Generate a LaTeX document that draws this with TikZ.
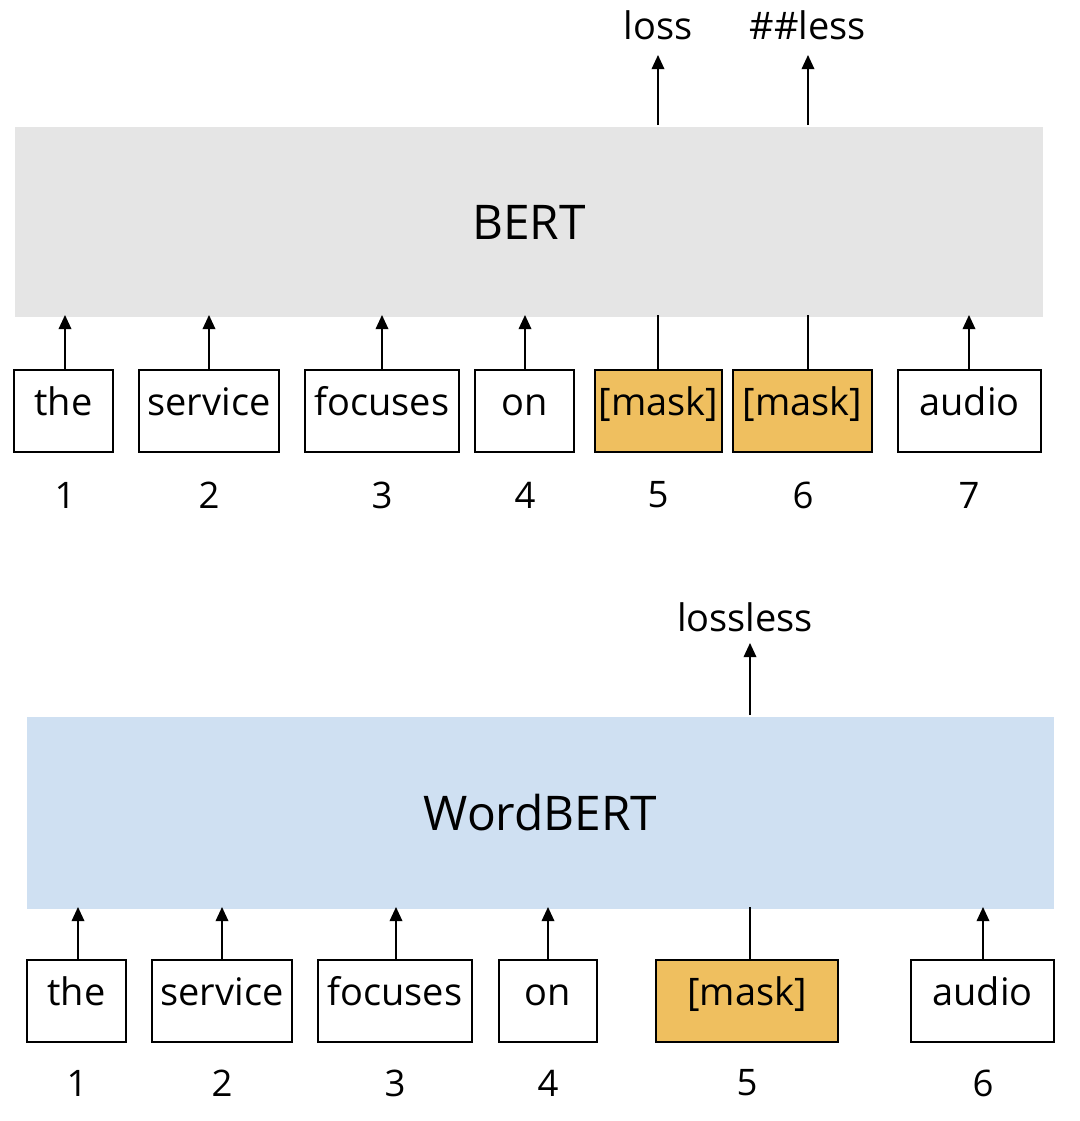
\documentclass[tikz,border=0pt]{standalone}
\usepackage{fontspec}
\setmainfont{Open Sans}
\usetikzlibrary{arrows.meta}
\definecolor{bertgray}{HTML}{E5E5E5}
\definecolor{wbblue}{HTML}{CFE0F2}
\definecolor{maskor}{HTML}{EFBF5F}
\begin{document}
\begin{tikzpicture}[x=0.025cm,y=-0.025cm,
 tok/.style={draw=black,line width=1.6pt,inner sep=0pt,text height=0.62em,text depth=0.05em,font=\fontsize{27}{30}\selectfont},
 msk/.style={tok,fill=maskor},
 num/.style={font=\fontsize{26}{30}\selectfont},
 lbl/.style={font=\fontsize{27}{32}\selectfont},
 arr/.style={line width=1pt,-{Triangle[length=10pt,width=9pt]}},
 ln/.style={line width=1pt}]
\useasboundingbox (0,0) rectangle (1080,1121);
% top
\node[fill=bertgray,minimum width=1028*0.025cm,minimum height=190*0.025cm,font=\fontsize{34}{40}\selectfont] (bert) at (529,222) {BERT};
\node[tok,minimum width=99*0.025cm,minimum height=82*0.025cm] (t1) at (63.5,411) {the};
\node[tok,minimum width=140*0.025cm,minimum height=82*0.025cm] (t2) at (209,411) {service};
\node[tok,minimum width=154*0.025cm,minimum height=82*0.025cm] (t3) at (382,411) {focuses};
\node[tok,minimum width=99*0.025cm,minimum height=82*0.025cm] (t4) at (524.5,411) {on};
\node[msk,minimum width=127*0.025cm,minimum height=82*0.025cm] (t5) at (658.5,411) {[mask]};
\node[msk,minimum width=139*0.025cm,minimum height=82*0.025cm] (t6) at (802.5,411) {[mask]};
\node[tok,minimum width=143*0.025cm,minimum height=82*0.025cm] (t7) at (969.5,411) {audio};
\foreach \n/\x/\l in {1/65/1,2/209/2,3/382/3,4/525/4,5/658/5,6/803/6,7/969/7}
  \node[num] (n\n) at (\x,495) {\l};
\foreach \n/\x in {1/65,2/209,3/382,4/525,7/969}{
  \coordinate (b\n) at (\x,315);
  \draw[arr] (t\n.north -| b\n) -- (b\n);}
\coordinate (b5) at (658,315); \coordinate (b6) at (808,315);
\draw[ln] (t5.north -| b5) -- (b5);
\draw[ln] (t6.north -| b6) -- (b6);
\node[lbl] (o1) at (658,25) {loss};
\node[lbl] (o2) at (808,25) {\#\#less};
\coordinate (u1) at (658,125); \coordinate (u2) at (808,125);
\draw[arr] (u1) -- (658,55);
\draw[arr] (u2) -- (808,55);
% bottom
\node[fill=wbblue,minimum width=1027*0.025cm,minimum height=192*0.025cm,font=\fontsize{34}{40}\selectfont] (wb) at (540.5,813) {WordBERT};
\node[tok,minimum width=99*0.025cm,minimum height=82*0.025cm] (s1) at (76.5,1001) {the};
\node[tok,minimum width=140*0.025cm,minimum height=82*0.025cm] (s2) at (222,1001) {service};
\node[tok,minimum width=154*0.025cm,minimum height=82*0.025cm] (s3) at (395,1001) {focuses};
\node[tok,minimum width=98*0.025cm,minimum height=82*0.025cm] (s4) at (548,1001) {on};
\node[msk,minimum width=182*0.025cm,minimum height=82*0.025cm] (s5) at (747,1001) {[mask]};
\node[tok,minimum width=143*0.025cm,minimum height=82*0.025cm] (s6) at (982.5,1001) {audio};
\foreach \n/\x in {1/77,2/222,3/395,4/548,5/747,6/983}
  \node[num] (m\n) at (\x,1083) {\n};
\foreach \n/\x in {1/78,2/222,3/396,4/548,6/983}{
  \coordinate (c\n) at (\x,907);
  \draw[arr] (s\n.north -| c\n) -- (c\n);}
\coordinate (c5) at (750,907);
\draw[ln] (s5.north -| c5) -- (c5);
\node[lbl] (o3) at (745,617) {lossless};
\coordinate (u3) at (750,715);
\draw[arr] (u3) -- (750,643);
\end{tikzpicture}
\end{document}
